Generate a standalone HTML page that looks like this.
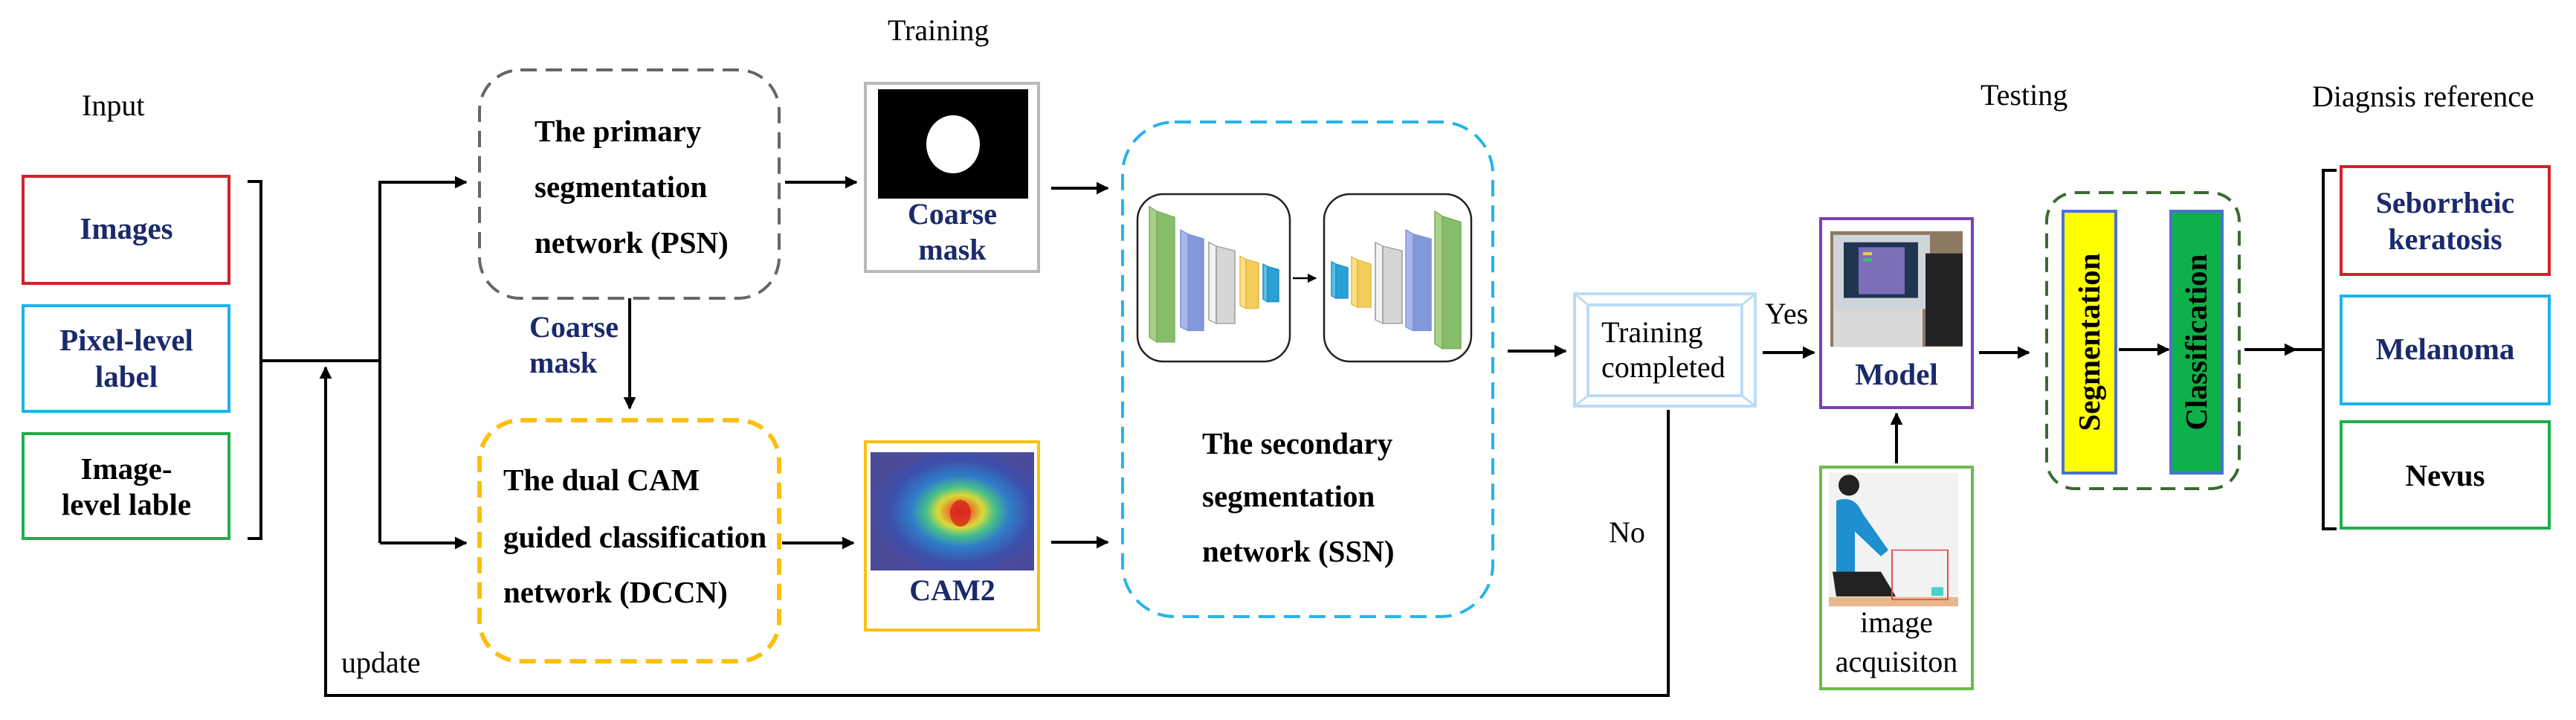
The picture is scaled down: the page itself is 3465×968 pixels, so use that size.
<!DOCTYPE html>
<html><head><meta charset="utf-8"><style>
html,body{margin:0;padding:0;background:#fff;}
svg{display:block;}
text{font-family:"Liberation Serif","DejaVu Serif","Times New Roman",serif;}
.b{font-weight:bold;}
.nb{fill:#1b2a6b;font-weight:bold;}
</style></head><body>
<svg width="3465" height="968" viewBox="0 0 3465 968" xmlns="http://www.w3.org/2000/svg" font-family="Liberation Serif, DejaVu Serif, Times New Roman, serif">
<defs>
<marker id="ah" viewBox="0 0 10 10" refX="9" refY="5" markerWidth="4.2" markerHeight="4.2" orient="auto" markerUnits="strokeWidth"><path d="M0,0 L10,5 L0,10 z" fill="#000"/></marker>
<marker id="ahs" viewBox="0 0 10 10" refX="9" refY="5" markerWidth="5" markerHeight="5" orient="auto" markerUnits="strokeWidth"><path d="M0,0 L10,5 L0,10 z" fill="#000"/></marker>
<radialGradient id="cam" cx="0.55" cy="0.5" r="0.55">
<stop offset="0" stop-color="#d8261e"/><stop offset="0.12" stop-color="#e8732a"/><stop offset="0.25" stop-color="#d9d93a"/><stop offset="0.38" stop-color="#48c08a"/><stop offset="0.55" stop-color="#2f7cc8"/><stop offset="0.8" stop-color="#3e4eaa"/><stop offset="1" stop-color="#4a4a98"/></radialGradient>
</defs>

<text x="110" y="155" font-size="40">Input</text>
<text x="1194" y="54" font-size="40">Training</text>
<text x="2664" y="141" font-size="40">Testing</text>
<text x="3110" y="143" font-size="40">Diagnsis reference</text>

<rect x="31" y="237" width="277" height="144" fill="none" stroke="#d1222a" stroke-width="4"/>
<text x="170" y="321" font-size="41" class="nb" text-anchor="middle">Images</text>
<rect x="31" y="411" width="277" height="142" fill="none" stroke="#1ab4ec" stroke-width="4"/>
<text x="170" y="471" font-size="41" class="nb" text-anchor="middle">Pixel-level</text>
<text x="170" y="520" font-size="41" class="nb" text-anchor="middle">label</text>
<rect x="31" y="583" width="277" height="141" fill="none" stroke="#1fae4a" stroke-width="4"/>
<text x="170" y="644" font-size="41" class="b" text-anchor="middle">Image-</text>
<text x="170" y="692" font-size="41" class="b" text-anchor="middle">level lable</text>
<path d="M333,244 H351 V724 H333" fill="none" stroke="#000" stroke-width="4"/>

<path d="M351,485 H511" stroke="#000" stroke-width="4" fill="none"/>
<path d="M511,730 V245 H627" stroke="#000" stroke-width="4" fill="none" marker-end="url(#ah)"/>
<path d="M511,730 H627" stroke="#000" stroke-width="4" fill="none" marker-end="url(#ah)"/>

<rect x="645" y="94" width="403" height="307" rx="55" fill="none" stroke="#666" stroke-width="4" stroke-dasharray="22,12"/>
<text x="719" y="190" font-size="41" class="b">The primary</text>
<text x="719" y="265" font-size="41" class="b">segmentation</text>
<text x="719" y="340" font-size="41" class="b">network (PSN)</text>
<text x="712" y="453" font-size="40" class="nb">Coarse</text>
<text x="712" y="501" font-size="40" class="nb">mask</text>
<path d="M847,401 V549" stroke="#000" stroke-width="4" fill="none" marker-end="url(#ah)"/>

<rect x="645" y="565" width="403" height="324" rx="55" fill="none" stroke="#fbbf0f" stroke-width="6" stroke-dasharray="22,12"/>
<text x="677" y="659" font-size="41" class="b">The dual CAM</text>
<text x="677" y="736" font-size="41" class="b">guided classification</text>
<text x="677" y="810" font-size="41" class="b">network (DCCN)</text>

<path d="M1056,245 H1152" stroke="#000" stroke-width="4" marker-end="url(#ah)"/>
<path d="M1052,730 H1148" stroke="#000" stroke-width="4" marker-end="url(#ah)"/>

<rect x="1164" y="112" width="233" height="253" fill="#fff" stroke="#b9b9b9" stroke-width="4"/>
<rect x="1181" y="120" width="202" height="147" fill="#000"/>
<ellipse cx="1282" cy="194" rx="36" ry="39" fill="#fff"/>
<text x="1281" y="301" font-size="40" class="nb" text-anchor="middle">Coarse</text>
<text x="1281" y="349" font-size="40" class="nb" text-anchor="middle">mask</text>

<rect x="1164" y="594" width="233" height="253" fill="#fff" stroke="#fbbf0f" stroke-width="4"/>
<rect x="1171" y="608" width="220" height="159" fill="url(#cam)"/>
<ellipse cx="1292" cy="690" rx="14" ry="18" fill="#d8261e" opacity="0.8"/>
<text x="1281" y="807" font-size="40" class="nb" text-anchor="middle">CAM2</text>

<path d="M1414,253 H1490" stroke="#000" stroke-width="4" marker-end="url(#ah)"/>
<path d="M1414,729 H1490" stroke="#000" stroke-width="4" marker-end="url(#ah)"/>

<rect x="1510" y="164" width="498" height="665" rx="70" fill="none" stroke="#27b3ea" stroke-width="4" stroke-dasharray="22,12"/>
<rect x="1530" y="261" width="205" height="225" rx="35" fill="none" stroke="#222" stroke-width="2.5"/>
<rect x="1781" y="261" width="198" height="225" rx="35" fill="none" stroke="#222" stroke-width="2.5"/>
<g stroke-width="1.5" transform="scale(1,0.8068)">
<polygon points="1546,344 1556,352 1556,570 1546,562" fill="#a7d08a" stroke="#7aae5c"/><polygon points="1556,352 1580,362 1580,570 1556,570" fill="#86bd6a" stroke="#7aae5c"/>
<polygon points="1588,383 1598,390 1598,551 1588,545" fill="#a8b8ec" stroke="#7f93d8"/><polygon points="1598,390 1619,398 1619,551 1598,551" fill="#8398d9" stroke="#7f93d8"/>
<polygon points="1626,404 1636,410 1636,539 1626,533" fill="#f3f3f3" stroke="#999"/><polygon points="1636,410 1661,418 1661,539 1636,539" fill="#d6d6d6" stroke="#999"/>
<polygon points="1668,427 1676,432 1676,514 1668,509" fill="#fde08a" stroke="#e0b940"/><polygon points="1676,432 1693,438 1693,514 1676,514" fill="#f4cc5a" stroke="#e0b940"/>
<polygon points="1699,440 1705,444 1705,503 1699,499" fill="#5cc0e6" stroke="#1d8fc0"/><polygon points="1705,444 1720,449 1720,503 1705,503" fill="#2aa0d4" stroke="#1d8fc0"/>
<polygon points="1791,436 1797,440 1797,497 1791,493" fill="#5cc0e6" stroke="#1d8fc0"/><polygon points="1797,440 1813,446 1813,497 1797,497" fill="#2aa0d4" stroke="#1d8fc0"/>
<polygon points="1818,428 1826,433 1826,512 1818,507" fill="#fde08a" stroke="#e0b940"/><polygon points="1826,433 1844,440 1844,512 1826,512" fill="#f4cc5a" stroke="#e0b940"/>
<polygon points="1850,404 1860,410 1860,539 1850,533" fill="#f3f3f3" stroke="#999"/><polygon points="1860,410 1886,418 1886,539 1860,539" fill="#d6d6d6" stroke="#999"/>
<polygon points="1891,383 1901,390 1901,551 1891,545" fill="#a8b8ec" stroke="#7f93d8"/><polygon points="1901,390 1925,398 1925,551 1901,551" fill="#8398d9" stroke="#7f93d8"/>
<polygon points="1930,352 1940,360 1940,581 1930,573" fill="#a7d08a" stroke="#7aae5c"/><polygon points="1940,360 1965,370 1965,581 1940,581" fill="#86bd6a" stroke="#7aae5c"/>
</g>
<path d="M1739,374 H1770" stroke="#000" stroke-width="2.5" marker-end="url(#ahs)"/>
<text x="1617" y="610" font-size="41" class="b">The secondary</text>
<text x="1617" y="681" font-size="41" class="b">segmentation</text>
<text x="1617" y="755" font-size="41" class="b">network (SSN)</text>

<path d="M2028,472 H2106" stroke="#000" stroke-width="4" marker-end="url(#ah)"/>

<rect x="2118" y="395" width="243" height="151" fill="#fff" stroke="#bcdcf4" stroke-width="4"/>
<rect x="2136" y="410" width="207" height="122" fill="none" stroke="#bcdcf4" stroke-width="4"/>
<path d="M2118,395 L2136,410 M2361,395 L2343,410 M2118,546 L2136,532 M2361,546 L2343,532" stroke="#bcdcf4" stroke-width="3"/>
<text x="2154" y="460" font-size="40">Training</text>
<text x="2154" y="507" font-size="40">completed</text>

<text x="2164" y="729" font-size="40">No</text>
<path d="M2244,551 V935 H438 V494" stroke="#000" stroke-width="4" fill="none" marker-end="url(#ah)"/>
<text x="459" y="904" font-size="40">update</text>

<text x="2374" y="435" font-size="40">Yes</text>
<path d="M2371,474 H2440" stroke="#000" stroke-width="4" marker-end="url(#ah)"/>

<rect x="2449" y="294" width="204" height="254" fill="#fff" stroke="#7d3fb4" stroke-width="4"/>
<g transform="scale(1,0.831)">
<rect x="2462" y="374" width="178" height="187" fill="#8c7a62"/>
<rect x="2466" y="380" width="130" height="120" fill="#cfd4d8"/>
<rect x="2480" y="392" width="100" height="90" fill="#1f3550"/>
<rect x="2500" y="400" width="62" height="76" fill="#7a6fb8"/>
<rect x="2506" y="408" width="12" height="5" fill="#e8d040"/>
<rect x="2506" y="418" width="12" height="5" fill="#40c070"/>
<rect x="2466" y="500" width="120" height="61" fill="#d8d8d8"/>
<rect x="2590" y="410" width="50" height="150" fill="#222"/>
</g>
<text x="2551" y="517" font-size="41" class="nb" text-anchor="middle">Model</text>

<path d="M2551,623 V556" stroke="#000" stroke-width="4" marker-end="url(#ah)"/>

<rect x="2449" y="628" width="204" height="298" fill="#fff" stroke="#6cbb4c" stroke-width="4"/>
<g transform="scale(1,0.831)">
<rect x="2460" y="765" width="174" height="216" fill="#f2f2f2"/>
<rect x="2460" y="966" width="174" height="15" fill="#e8b88c"/>
<ellipse cx="2487" cy="785" rx="14" ry="17" fill="#222"/>
<path d="M2470,810 Q2495,800 2505,830 L2540,890 L2530,900 L2495,860 L2495,930 L2470,930 Z" fill="#1e8fcf"/>
<path d="M2465,925 L2530,925 L2550,965 L2470,965 Z" fill="#222"/>
<rect x="2545" y="890" width="75" height="80" fill="none" stroke="#e05050" stroke-width="2"/>
<rect x="2598" y="950" width="16" height="14" fill="#4ad0d0"/>
</g>
<text x="2551" y="850" font-size="40" text-anchor="middle">image</text>
<text x="2551" y="903" font-size="40" text-anchor="middle">acquisiton</text>

<path d="M2662,474 H2729" stroke="#000" stroke-width="4" marker-end="url(#ah)"/>

<rect x="2753" y="259" width="259" height="398" rx="38" fill="none" stroke="#3a6a30" stroke-width="4" stroke-dasharray="20,12"/>
<rect x="2775" y="284" width="71" height="352" fill="#ffff00" stroke="#4a72d0" stroke-width="4"/>
<rect x="2920" y="284" width="69" height="352" fill="#0eb04a" stroke="#4a72d0" stroke-width="4"/>
<text transform="translate(2824,460) rotate(-90)" font-size="41" class="b" text-anchor="middle">Segmentation</text>
<text transform="translate(2968,460) rotate(-90)" font-size="41" class="b" text-anchor="middle">Classification</text>
<path d="M2850,470 H2917" stroke="#000" stroke-width="4" marker-end="url(#ah)"/>
<path d="M3019,470 H3125" stroke="#000" stroke-width="4"/>
<path d="M3019,470 H3088" stroke="#000" stroke-width="4" marker-end="url(#ah)"/>

<path d="M3143,229 H3125 V711 H3143" fill="none" stroke="#000" stroke-width="4"/>
<rect x="3149" y="224" width="280" height="145" fill="none" stroke="#d1222a" stroke-width="4"/>
<text x="3289" y="286" font-size="40" class="nb" text-anchor="middle">Seborrheic</text>
<text x="3289" y="335" font-size="40" class="nb" text-anchor="middle">keratosis</text>
<rect x="3149" y="398" width="280" height="145" fill="none" stroke="#1ab4ec" stroke-width="4"/>
<text x="3289" y="483" font-size="41" class="nb" text-anchor="middle">Melanoma</text>
<rect x="3149" y="567" width="280" height="143" fill="none" stroke="#1fae4a" stroke-width="4"/>
<text x="3289" y="653" font-size="41" class="b" text-anchor="middle">Nevus</text>
</svg>
</body></html>
